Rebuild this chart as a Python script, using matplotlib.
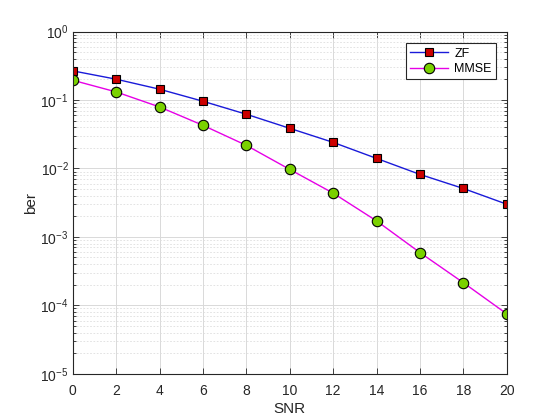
import numpy as np
import matplotlib.pyplot as plt
from matplotlib.ticker import LogLocator, NullFormatter

# data
snr = [0, 2, 4, 6, 8, 10, 12, 14, 16, 18, 20]
ber_zf = [0.266, 0.201, 0.1435, 0.0957, 0.0618, 0.0385, 0.024, 0.0140,
          0.00817, 0.00509, 0.0030]
ber_mmse = [0.194, 0.131, 0.079, 0.0426, 0.0217, 0.00966, 0.00435, 0.00171,
            0.000589, 0.000214, 7.5e-5]
xticks = list(range(0, 21, 2))

plt.rcParams['font.family'] = ['Liberation Sans', 'DejaVu Sans']
plt.rcParams['mathtext.fontset'] = 'custom'
plt.rcParams['mathtext.rm'] = 'Liberation Sans'

fig = plt.figure(figsize=(5.6, 4.2), dpi=100)
ax = fig.add_axes([0.13, 0.11, 0.775, 0.815])

ax.semilogy(snr, ber_zf, '-s', color=(0.1, 0.1, 0.85), lw=1,
            mfc=(0.8, 0, 0), mec='k', ms=6, mew=0.8, label='ZF')
ax.semilogy(snr, ber_mmse, '-o', color=(0.9, 0, 0.9), lw=1,
            mfc=(0.48, 0.82, 0), mec='k', ms=7.5, mew=0.8, label='MMSE')

ax.set_xlim(0, 20)
ax.set_ylim(1e-5, 1)
ax.set_xticks(xticks)
ax.yaxis.set_major_locator(LogLocator(base=10, numticks=10))
ax.yaxis.set_minor_locator(LogLocator(base=10, subs=np.arange(2, 10), numticks=10))
ax.yaxis.set_minor_formatter(NullFormatter())

ax.grid(True, which='major', color='#d9d9d9', lw=0.7, ls='-')
ax.grid(True, which='minor', axis='y', color='#dedede', lw=0.6, ls=(0, (2, 2)))
ax.set_axisbelow(True)

ax.tick_params(which='both', direction='in', top=True, right=True,
               labelsize=10, colors='#262626', width=0.6)
ax.tick_params(which='major', length=4)
ax.tick_params(which='minor', length=2)
ax.tick_params(axis='x', pad=7)
ax.tick_params(axis='y', pad=3)
for s in ax.spines.values():
    s.set_color('#262626')
    s.set_linewidth(0.8)

ax.set_xlabel('SNR', fontsize=11, color='#262626', labelpad=3)
ax.set_ylabel('ber', fontsize=11, color='#262626', labelpad=2)

leg = ax.legend(loc='upper right', fontsize=9, fancybox=False, framealpha=1,
                edgecolor='#262626', handlelength=3.0, handletextpad=0.5,
                borderpad=0.35, labelspacing=0.25, borderaxespad=0,
                bbox_to_anchor=(0.975, 0.965))
leg.get_frame().set_linewidth(0.8)

fig.savefig('out.png', dpi=100)
